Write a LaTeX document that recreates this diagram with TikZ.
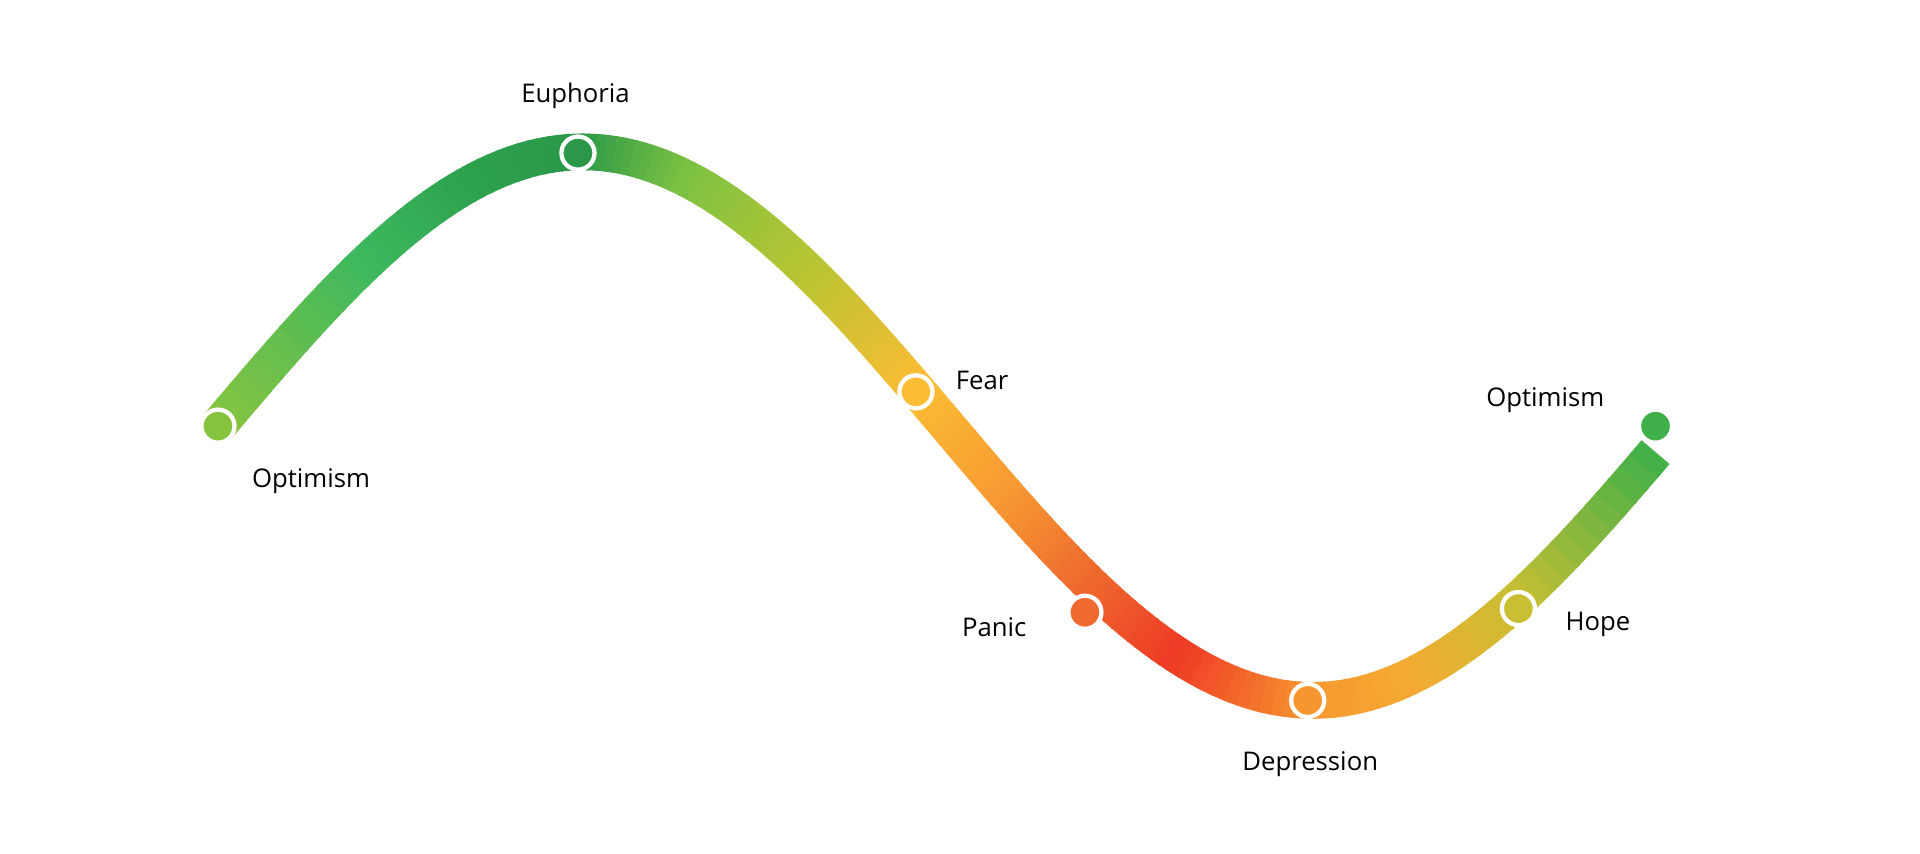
\documentclass[tikz,border=0pt]{standalone}
\usepackage{fontspec}
\setmainfont{Open Sans}
\definecolor{k0}{HTML}{86C440}
\definecolor{k1}{HTML}{3DB85F}
\definecolor{k2}{HTML}{2EA24E}
\definecolor{k3}{HTML}{2A9848}
\definecolor{k4}{HTML}{7DC242}
\definecolor{k5}{HTML}{B8C432}
\definecolor{k6}{HTML}{FBBD33}
\definecolor{k7}{HTML}{F79A32}
\definecolor{k8}{HTML}{EE6A2E}
\definecolor{k9}{HTML}{EE3A26}
\definecolor{k10}{HTML}{F7962F}
\definecolor{k11}{HTML}{F5AA33}
\definecolor{k12}{HTML}{C9BF33}
\definecolor{k13}{HTML}{3EAF49}
\tikzset{
  dot/.style={circle,draw=white,line width=3.5pt,minimum size=27pt,inner sep=0pt},
  lbl/.style={font=\fontsize{21pt}{24pt}\selectfont,text=black,inner sep=0pt}
}
\begin{document}
\begin{tikzpicture}[x=1pt,y=-1pt]
\useasboundingbox (0,0) rectangle (1568,697);
\foreach \xa/\ca/\xb/\cb in {178/k0/300/k1,300/k1/380/k2,380/k2/472/k3,472/k3/560/k4,560/k4/660/k5,660/k5/748/k6,748/k6/820/k7,820/k7/886/k8,886/k8/960/k9,960/k9/1068/k10,1068/k10/1150/k11,1150/k11/1240/k12,1240/k12/1352/k13}{
  \foreach \j in {0,...,11}{
    \pgfmathsetmacro{\xs}{\xa+(\xb-\xa)*\j/12}
    \pgfmathsetmacro{\xe}{min(\xa+(\xb-\xa)*(\j+1)/12+1.5,1352)}
    \pgfmathsetmacro{\pp}{100*(\j+0.5)/12}
    \draw[line width=30pt,color=\cb!\pp!\ca] plot[domain=\xs:\xe,samples=4] (\x,{348-224*sin((\x-178)*0.302013)});
  }
}
\node[dot,fill=k0] (o1) at (178,348) {};
\node[dot,fill=k3] (eu) at (472,125) {};
\node[dot,fill=k6] (fe) at (748,320) {};
\node[dot,fill=k8] (pa) at (886,500) {};
\node[dot,fill=k10] (de) at (1068,572) {};
\node[dot,fill=k12] (ho) at (1240,497) {};
\node[dot,fill=k13] (o2) at (1352,348) {};
\node[lbl] (t1) at (254,393) {Optimism};
\node[lbl] (t2) at (470,78) {Euphoria};
\node[lbl] (t3) at (802,311) {Fear};
\node[lbl] (t4) at (812,512) {Panic};
\node[lbl] (t5) at (1070,624) {Depression};
\node[lbl] (t6) at (1305,510) {Hope};
\node[lbl] (t7) at (1262,327) {Optimism};
\end{tikzpicture}
\end{document}
